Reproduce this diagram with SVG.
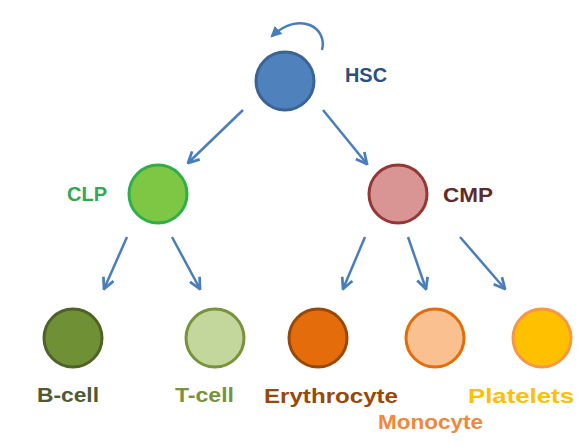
<svg xmlns="http://www.w3.org/2000/svg" width="585" height="446" viewBox="0 0 585 446">
<defs>
<marker id="ah" viewBox="0 0 10 10" refX="9" refY="5" markerWidth="5.5" markerHeight="5.5" orient="auto" markerUnits="strokeWidth">
<path d="M1,1 L9,5 L1,9" fill="none" stroke="#4A7EBB" stroke-width="2"/>
</marker>
<marker id="ahf" viewBox="0 0 10 10" refX="8" refY="5" markerWidth="4.5" markerHeight="4.5" orient="auto" markerUnits="strokeWidth">
<path d="M0,0 L10,5 L0,10 Z" fill="#4A7EBB"/>
</marker>
</defs>
<style>
text{font-family:"Liberation Sans",Arial,sans-serif;font-weight:bold;font-size:21px}
.c{stroke-width:3}
.e{fill:none;stroke:#4A7EBB;stroke-width:2.5;marker-end:url(#ah)}
</style>
<rect width="585" height="446" fill="#fff"/>
<g id="connectors">
<path class="e" d="M322,50 C328,28 300,10 272,36" style="marker-end:url(#ahf)"/>
<line class="e" x1="243" y1="110" x2="188" y2="163"/>
<line class="e" x1="323" y1="110" x2="367" y2="164"/>
<line class="e" x1="127" y1="237" x2="104" y2="289"/>
<line class="e" x1="172" y1="237" x2="200" y2="289"/>
<line class="e" x1="365" y1="237" x2="343" y2="289"/>
<line class="e" x1="408" y1="237" x2="426" y2="289"/>
<line class="e" x1="460" y1="237" x2="505" y2="289"/>
</g>
<g id="HSC"><circle class="c" cx="285" cy="81" r="29" fill="#4F81BD" stroke="#3A6496"/><text x="345" y="82" fill="#2C4F7C" textLength="42" lengthAdjust="spacingAndGlyphs">HSC</text></g>
<g id="CLP"><circle class="c" cx="158" cy="194" r="29" fill="#7DC744" stroke="#2FAE4A"/><text x="67" y="201" fill="#33A852" textLength="40" lengthAdjust="spacingAndGlyphs">CLP</text></g>
<g id="CMP"><circle class="c" cx="398" cy="194" r="29" fill="#D99594" stroke="#953735"/><text x="443" y="202" fill="#5E2B2B" textLength="50" lengthAdjust="spacingAndGlyphs">CMP</text></g>
<g id="Bcell"><circle class="c" cx="73" cy="338" r="29" fill="#6F9034" stroke="#4F6228"/><text x="37" y="402" fill="#4F5A34" textLength="62" lengthAdjust="spacingAndGlyphs">B-cell</text></g>
<g id="Tcell"><circle class="c" cx="215" cy="338" r="29" fill="#C3D69B" stroke="#77933C"/><text x="175" y="402" fill="#77933C" textLength="59" lengthAdjust="spacingAndGlyphs">T-cell</text></g>
<g id="Erythrocyte"><circle class="c" cx="318" cy="338" r="29" fill="#E46C0A" stroke="#984807"/><text x="264" y="403" fill="#984807" textLength="134" lengthAdjust="spacingAndGlyphs">Erythrocyte</text></g>
<g id="Monocyte"><circle class="c" cx="435" cy="338" r="29" fill="#FAC090" stroke="#E46C0A"/><text x="378" y="429" fill="#F0883A" textLength="105" lengthAdjust="spacingAndGlyphs">Monocyte</text></g>
<g id="Platelets"><circle class="c" cx="542" cy="338" r="29" fill="#FFC000" stroke="#F79646"/><text x="468" y="403" fill="#FFC000" textLength="106" lengthAdjust="spacingAndGlyphs">Platelets</text></g>
</svg>
